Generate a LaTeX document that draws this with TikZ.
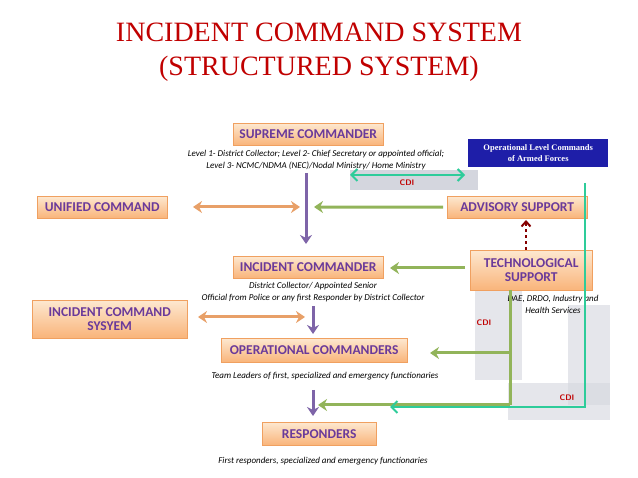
\documentclass[tikz,border=0pt]{standalone}
\usepackage{fontspec}
\setmainfont{Liberation Serif}
\newfontfamily\carl{Carlito}
\usetikzlibrary{arrows.meta}
\definecolor{boxtop}{HTML}{FDE8D0}
\definecolor{boxbot}{HTML}{F9B47A}
\definecolor{boxline}{HTML}{F0A060}
\definecolor{ptxt}{HTML}{6A3A9A}
\definecolor{parr}{HTML}{7E64A8}
\definecolor{garr}{HTML}{92B45A}
\definecolor{oarr}{HTML}{E8A068}
\definecolor{tealc}{HTML}{2ECC9A}
\definecolor{cdi}{HTML}{C00000}
\definecolor{navy}{HTML}{1E1EA8}
\definecolor{gry}{HTML}{D4D6DE}
\tikzset{
 x=1pt,y=-1pt,
 box/.style={draw=boxline,top color=boxtop,bottom color=boxbot,font=\carl\bfseries\fontsize{13.5}{14.5}\selectfont,text=ptxt,align=center,inner sep=0pt,anchor=north west},
 note/.style={font=\carl\itshape\fontsize{9}{12}\selectfont,align=center},
 arr/.style={line width=3pt,-{Stealth[length=9pt,width=12pt,inset=3pt]}},
 darr/.style={line width=3pt,{Stealth[length=9pt,width=12pt,inset=3pt]}-{Stealth[length=9pt,width=12pt,inset=3pt]}},
 cdil/.style={font=\sffamily\bfseries\fontsize{8}{9}\selectfont,text=cdi},
}
\begin{document}
\begin{tikzpicture}
\useasboundingbox (0,0) rectangle (638,478);
% grey bands
\fill[gry] (350,170) rectangle (478,190);
\fill[gry,opacity=.6] (475,285) rectangle (522,380);
\fill[gry,opacity=.6] (568,305) rectangle (610,405);
\fill[gry,opacity=.6] (508,383) rectangle (610,420);
\node[text=cdi,font=\fontsize{28}{34}\selectfont,align=center] (title) at (319,52) {INCIDENT COMMAND SYSTEM\\(STRUCTURED SYSTEM)};
\node[box,minimum width=150pt,minimum height=22pt] (sup) at (233,123) {SUPREME COMMANDER};
\node[note] (supn) at (316,160) {Level 1- District Collector; Level 2- Chief Secretary or appointed official;\\Level 3- NCMC/NDMA (NEC)/Nodal Ministry/ Home Ministry};
\node[fill=navy,text=white,font=\bfseries\fontsize{8.5}{10.5}\selectfont,align=center,minimum width=140pt,minimum height=28pt,anchor=north west,inner sep=0pt] (ops) at (468,139) {Operational Level Commands\\of Armed Forces};
\node[box,minimum width=130pt,minimum height=22pt] (uni) at (37,196) {UNIFIED COMMAND};
\node[box,minimum width=140pt,minimum height=22pt] (adv) at (447,196) {ADVISORY SUPPORT};
\node[box,minimum width=122pt,minimum height=40pt] (tech) at (470,250) {TECHNOLOGICAL\\SUPPORT};
\node[box,minimum width=150pt,minimum height=22pt] (ic) at (233,256) {INCIDENT COMMANDER};
\node[note] (icn) at (313,292) {District Collector/ Appointed Senior\\Official from Police or any first Responder by District Collector};
\node[note] (techn) at (553,304) {DAE, DRDO, Industry and\\Health Services};
\node[box,minimum width=155pt,minimum height=38pt] (ics) at (32,300) {INCIDENT COMMAND\\SYSYEM};
\node[box,minimum width=186pt,minimum height=24pt] (opc) at (221,338) {OPERATIONAL COMMANDERS};
\node[note] (opcn) at (325,376) {Team Leaders of first, specialized and emergency functionaries};
\node[box,minimum width=114pt,minimum height=23pt] (resp) at (262,422) {RESPONDERS};
\node[note] (respn) at (323,461) {First responders, specialized and emergency functionaries};
\node[cdil] (c1) at (407,183) {CDI};
\node[cdil] (c2) at (484,323) {CDI};
\node[cdil] (c3) at (567,398) {CDI};
% coordinates
\coordinate (p1) at (306,173); \coordinate (p2) at (306,244);
\coordinate (p3) at (313,306); \coordinate (p4) at (313,334);
\coordinate (p5) at (313,390); \coordinate (p6) at (313,416);
\coordinate (o1) at (193,207); \coordinate (o2) at (300,207);
\coordinate (o3) at (198,317); \coordinate (o4) at (305,317);
\coordinate (g1) at (314,207);
\coordinate (g2) at (390,268);
\coordinate (gv) at (510,290); \coordinate (gm) at (510,353); \coordinate (gb) at (510,405);
\coordinate (g3) at (430,353); \coordinate (g4) at (318,405);
\coordinate (t1) at (350,175); \coordinate (t2) at (465,175);
\coordinate (tv) at (585,183); \coordinate (tb) at (585,407); \coordinate (t3) at (390,407);
% arrows
\draw[arr,parr] (p1) -- (p2);
\draw[arr,parr] (p3) -- (p4);
\draw[arr,parr] (p5) -- (p6);
\draw[darr,oarr] (o1) -- (o2);
\draw[darr,oarr] (o3) -- (o4);
\draw[arr,garr] ([xshift=-4pt]adv.west) -- (g1);
\draw[arr,garr] ([xshift=-5pt]tech.west |- g2) -- (g2);
\draw[line width=3pt,garr] (gv) -- (gb);
\draw[arr,garr] (gm) -- (g3);
\draw[arr,garr] (gb) -- (g4);
\draw[line width=2pt,tealc,{Straight Barb[length=6pt,width=12pt]}-{Straight Barb[length=6pt,width=12pt]}] (t1) -- (t2);
\draw[line width=2pt,tealc,-{Straight Barb[length=6pt,width=12pt]}] (tv) -- (tb) -- (t3);
\draw[line width=2pt,cdi!70!black,dashed,-{Straight Barb[length=5pt,width=9pt]}] (tech.north -| 526,0) -- (526,220);
\end{tikzpicture}
\end{document}
